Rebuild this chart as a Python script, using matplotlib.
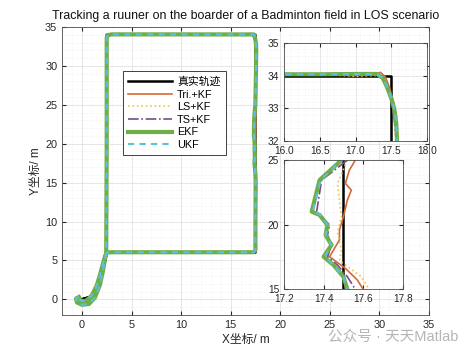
import matplotlib
matplotlib.use("Agg")
import matplotlib.pyplot as plt
from matplotlib.ticker import MultipleLocator

plt.rcParams['font.family'] = ['Liberation Sans', 'Noto Sans CJK SC', 'DejaVu Sans']

# ---------------- data ----------------
title = "Tracking a ruuner on the boarder of a Badminton field in LOS scenario"
labels = ["真实轨迹", "Tri.+KF", "LS+KF", "TS+KF", "EKF", "UKF"]

truth_x = [0.0, 0.8, 1.6, 2.1, 2.5, 2.5, 17.5, 17.5, 2.5, 2.1, 1.6, 0.8, 0.0]
truth_y = [0.0, 0.3, 1.5, 3.5, 6.0, 34.0, 34.0, 6.0, 6.0, 3.5, 1.5, 0.3, 0.0]

# shared start (approach from origin) and left/top side
start_x = [-0.3, -0.6, -0.5, 0.0, 0.7, 1.3, 1.8, 2.1, 2.3, 2.45, 2.5, 2.5, 2.6, 3.0, 10.0, 16.5]
start_y = [0.3, 0.1, -0.4, -0.7, -0.6, 0.2, 1.8, 3.5, 5.0, 6.0, 20.0, 33.6, 33.95, 34.05, 34.05, 34.04]
# shared bottom side and return to origin
end_x = [17.3, 10.0, 3.0, 2.5, 2.2, 1.9, 1.5, 1.0, 0.4, -0.1, -0.3]
end_y = [6.05, 6.05, 6.05, 6.0, 5.0, 3.5, 1.8, 0.5, -0.2, -0.2, 0.1]

# method-specific corner (17.5, 34) and right side
tri_x = [17.0, 17.25, 17.35, 17.42, 17.48, 17.53, 17.57, 17.58, 17.57, 17.56, 17.56, 17.53, 17.51, 17.54, 17.52, 17.50, 17.48, 17.48, 17.45, 17.43, 17.51, 17.57, 17.60, 17.52, 17.5]
tri_y = [34.0, 34.03, 34.1, 33.95, 33.6, 33.2, 32.8, 32.4, 32.0, 28.0, 25.0, 24.22, 23.19, 22.67, 21.9, 20.6, 19.57, 18.8, 18.02, 17.5, 16.6, 15.7, 14.97, 10.0, 6.3]
ls_x = [17.0, 17.28, 17.38, 17.45, 17.51, 17.55, 17.57, 17.55, 17.52, 17.47, 17.48, 17.49, 17.47, 17.49, 17.48, 17.59, 17.63, 17.53, 17.5]
ls_y = [33.98, 34.0, 33.9, 33.6, 33.2, 32.7, 32.0, 28.0, 25.0, 23.19, 21.9, 20.6, 19.4, 18.02, 17.2, 15.95, 14.97, 10.0, 6.3]
ts_x = [17.0, 17.28, 17.36, 17.43, 17.49, 17.53, 17.57, 17.55, 17.52, 17.39, 17.365, 17.43, 17.42, 17.44, 17.42, 17.47, 17.52, 17.56, 17.51, 17.5]
ts_y = [34.02, 34.04, 33.95, 33.7, 33.3, 32.9, 32.0, 28.0, 25.0, 23.45, 21.0, 19.96, 19.19, 18.41, 17.5, 16.86, 15.95, 14.97, 10.0, 6.3]
ekf_x = [17.0, 17.3, 17.38, 17.44, 17.5, 17.54, 17.57, 17.58, 17.55, 17.49, 17.38, 17.34, 17.38, 17.42, 17.41, 17.44, 17.40, 17.45, 17.50, 17.52, 17.5, 17.5]
ekf_y = [34.05, 34.05, 33.93, 33.65, 33.3, 33.0, 32.5, 32.0, 29.0, 25.0, 23.45, 21.0, 20.74, 19.96, 19.19, 18.41, 17.5, 16.86, 15.95, 14.97, 10.0, 6.3]
ukf_x = [17.0, 17.3, 17.385, 17.445, 17.5, 17.54, 17.57, 17.58, 17.55, 17.49, 17.385, 17.345, 17.385, 17.42, 17.41, 17.44, 17.405, 17.45, 17.50, 17.52, 17.5, 17.5]
ukf_y = [34.05, 34.05, 33.93, 33.65, 33.3, 33.0, 32.5, 32.0, 29.0, 25.0, 23.45, 21.0, 20.74, 19.96, 19.19, 18.41, 17.5, 16.86, 15.95, 14.97, 10.0, 6.3]

colors = ["#000000", "#D4693A", "#E5C84A", "#7A4A8C", "#6FAE45", "#5BC0DE"]

series = [
    (truth_x, truth_y),
    (start_x + tri_x + end_x, start_y + tri_y + end_y),
    (start_x + ls_x + end_x, start_y + ls_y + end_y),
    (start_x + ts_x + end_x, start_y + ts_y + end_y),
    (start_x + ekf_x + end_x, start_y + ekf_y + end_y),
    (start_x + ukf_x + end_x, start_y + ukf_y + end_y),
]
styles = [
    dict(ls='-', lw=1.8),
    dict(ls='-', lw=1.2),
    dict(ls=':', lw=1.2),
    dict(ls='-.', lw=1.2),
    dict(ls='-', lw=3.0),
    dict(ls=(0, (3, 2.5)), lw=1.5),
]

TICKC = '#262626'

def style_axes(ax, fs=7):
    ax.grid(True, which='major', color='#dcdcdc', lw=0.5, ls='-')
    ax.grid(True, which='minor', color='#e6e6e6', lw=0.4, ls=':')
    ax.set_axisbelow(True)
    ax.tick_params(which='both', direction='in', top=True, right=True,
                   labelsize=fs, colors=TICKC, length=3)
    ax.tick_params(which='minor', length=0)
    for s in ax.spines.values():
        s.set_color('#4d4d4d')
        s.set_linewidth(0.6)

def draw(ax):
    lines = []
    for (x, y), st, c, lab in zip(series, styles, colors, labels):
        l, = ax.plot(x, y, color=c, label=lab, **st)
        lines.append(l)
    return lines

fig = plt.figure(figsize=(4.74, 3.55), dpi=100)

# ---------------- main axes ----------------
ax = fig.add_axes([0.131, 0.113, 0.774, 0.811])
lines = draw(ax)
ax.set_xlim(-2, 35)
ax.set_ylim(-2, 35)
ax.xaxis.set_major_locator(MultipleLocator(5))
ax.yaxis.set_major_locator(MultipleLocator(5))
ax.xaxis.set_minor_locator(MultipleLocator(1))
ax.yaxis.set_minor_locator(MultipleLocator(1))
style_axes(ax, fs=7.8)
ax.set_title(title, fontsize=8.9, color='#111111', pad=6)
ax.set_xlabel("X坐标/ m", fontsize=8.5, color=TICKC, labelpad=3)
ax.set_ylabel("Y坐标/ m", fontsize=8.5, color=TICKC, labelpad=2)

leg = ax.legend(lines, labels, loc='upper left', bbox_to_anchor=(0.166, 0.847),
                fontsize=7.8, frameon=True, fancybox=False, edgecolor='#222222',
                framealpha=1, handlelength=4.0, labelspacing=0.24,
                borderpad=0.5, handletextpad=0.5, borderaxespad=0)
leg.get_frame().set_linewidth(0.6)

# ---------------- inset 1: corner ----------------
ax1 = fig.add_axes([0.599, 0.603, 0.302, 0.276])
draw(ax1)
ax1.set_xlim(16, 18)
ax1.set_ylim(32, 35)
ax1.xaxis.set_major_locator(MultipleLocator(0.5))
ax1.xaxis.set_minor_locator(MultipleLocator(0.1))
ax1.yaxis.set_major_locator(MultipleLocator(1))
ax1.yaxis.set_minor_locator(MultipleLocator(0.2))
style_axes(ax1, fs=7.3)

# ---------------- inset 2: right side ----------------
ax2 = fig.add_axes([0.599, 0.186, 0.251, 0.363])
draw(ax2)
ax2.set_xlim(17.2, 17.8)
ax2.set_ylim(15, 25)
ax2.xaxis.set_major_locator(MultipleLocator(0.2))
ax2.xaxis.set_minor_locator(MultipleLocator(0.05))
ax2.yaxis.set_major_locator(MultipleLocator(5))
ax2.yaxis.set_minor_locator(MultipleLocator(1))
style_axes(ax2, fs=7.3)

# watermark
fig.text(0.968, 0.052, "公众号 · 天天Matlab", ha='right', va='center',
         fontsize=10.5, color='#b5b5b5')

fig.savefig("out.png", dpi=100)
